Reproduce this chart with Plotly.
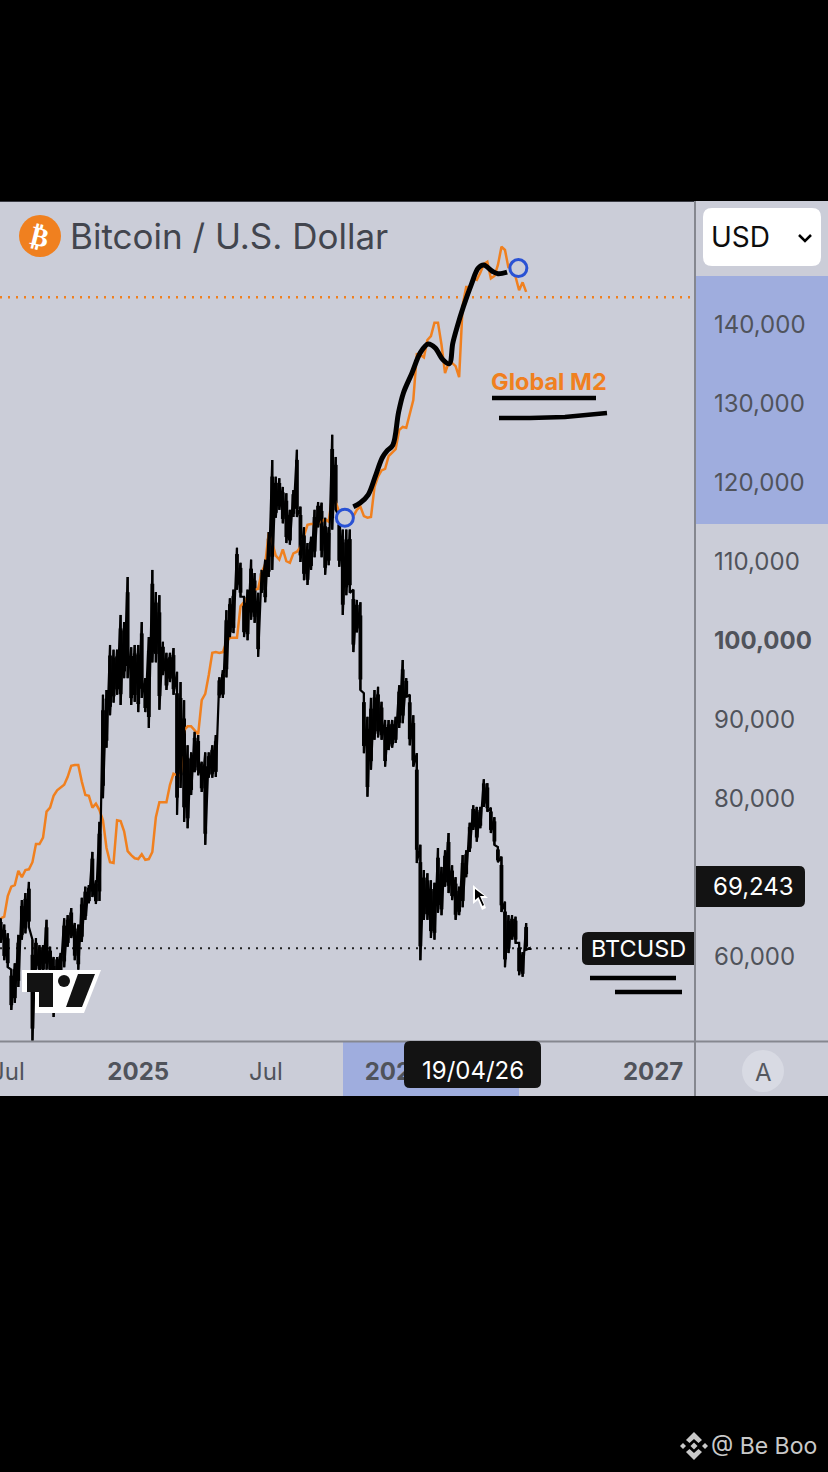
import numpy as np
import pandas as pd
import plotly.graph_objects as go

# Bitcoin / U.S. Dollar with Global M2 overlay (prices in thousands)
W, H = 828, 1472

price_ticks = [60000, 80000, 90000, 100000, 110000, 120000, 130000, 140000]
price_labels = ["60,000", "80,000", "90,000", "<b>100,000</b>", "110,000", "120,000", "130,000", "140,000"]
date_ticks = ["2025-01-01", "2025-07-01", "2026-01-01", "2027-01-01"]
date_labels = ["<b>2025</b>", "Jul", "<b>2026</b>", "<b>2027</b>"]
first_tick = "2024-07-01"

btc_high = [
    64.9, 64.1, 63.0, 58.4, 59.2, 62.8, 67.2, 68.1, 69.5, 62.2, 62.4, 61.5, 61.5, 64.7, 61.3, 60.0,
    60.0, 60.5, 64.9, 65.3, 66.2, 64.3, 64.1, 67.5, 68.9, 69.1, 73.3, 69.7, 77.1, 93.2, 93.8, 99.5,
    98.9, 98.9, 103.3, 102.4, 108.1, 99.2, 99.5, 99.5, 102.4, 95.3, 100.5, 109.0, 106.2, 105.8, 99.9, 98.5,
    98.5, 99.1, 96.1, 94.8, 92.5, 86.8, 85.9, 88.5, 88.1, 84.7, 85.9, 85.9, 86.8, 88.1, 95.4, 96.3,
    103.9, 105.4, 106.5, 111.8, 109.9, 105.6, 106.5, 110.3, 108.6, 106.1, 109.0, 110.3, 113.8, 122.9, 120.8, 120.6,
    119.5, 118.7, 116.6, 119.1, 124.2, 117.0, 114.4, 112.4, 113.2, 116.6, 117.6, 117.5, 115.6, 114.4, 126.1, 123.3,
    115.7, 114.1, 114.1, 114.1, 106.5, 105.2, 104.9, 93.4, 90.4, 92.8, 93.8, 94.2, 92.3, 90.0, 90.0, 90.0,
    90.4, 94.4, 97.6, 95.3, 93.2, 90.6, 85.8, 74.2, 71.0, 70.6, 69.7, 69.4, 73.8, 71.4, 73.5, 75.7,
    71.6, 70.1, 68.9, 72.9, 73.5, 77.0, 79.2, 79.0, 79.0, 82.5, 82.0, 78.9, 77.7, 73.9, 72.7, 67.0,
    65.3, 65.3, 65.1, 61.8, 60.6, 64.3, 61.1,
]
btc_low = [
    61.8, 59.6, 58.7, 53.3, 54.2, 56.2, 62.2, 63.0, 63.8, 49.4, 58.4, 58.0, 58.0, 58.4, 58.0, 52.4,
    58.0, 58.0, 58.7, 61.3, 62.4, 59.6, 58.4, 61.9, 64.7, 66.8, 67.6, 66.7, 67.1, 80.1, 86.5, 90.6,
    92.2, 93.2, 91.9, 95.3, 95.3, 91.9, 92.3, 91.0, 92.8, 91.0, 89.0, 97.3, 97.3, 91.3, 95.7, 93.8,
    94.8, 93.2, 78.0, 81.4, 77.1, 76.3, 80.5, 83.4, 83.0, 80.9, 74.2, 82.7, 82.7, 82.8, 92.8, 92.8,
    95.4, 100.5, 101.0, 106.5, 105.6, 100.5, 100.1, 102.7, 102.3, 98.0, 106.1, 104.9, 108.1, 109.0, 115.6, 116.6,
    114.9, 112.4, 112.2, 115.7, 115.7, 110.0, 107.7, 107.1, 109.0, 110.6, 114.4, 110.6, 108.4, 109.6, 114.1, 116.6,
    109.4, 103.3, 105.8, 106.1, 98.6, 101.1, 93.8, 85.8, 80.3, 83.7, 87.5, 87.8, 87.5, 84.1, 86.2, 86.5,
    87.1, 89.0, 89.6, 92.9, 86.8, 84.1, 71.9, 59.6, 64.7, 64.7, 62.4, 62.2, 65.6, 65.3, 68.9, 68.1,
    67.2, 64.7, 65.3, 66.3, 70.1, 73.3, 76.1, 74.6, 76.3, 79.0, 78.4, 75.7, 74.2, 72.0, 65.7, 58.7,
    60.5, 62.2, 61.8, 57.7, 57.5, 60.9, 60.9,
]
m2_values = [
    64.9, 65.1, 67.7, 68.9, 69.1, 70.9, 70.1, 71.0, 71.1, 72.0, 74.3, 74.3, 75.1, 78.4, 78.9, 80.4,
    81.1, 81.4, 81.8, 82.8, 84.2, 84.3, 84.3, 82.2, 80.5, 80.4, 78.9, 79.4, 78.6, 77.3, 73.8, 72.0,
    71.9, 77.3, 77.2, 75.9, 73.4, 72.9, 72.5, 72.4, 73.0, 72.3, 72.4, 73.3, 77.7, 79.6, 79.6, 79.6,
    81.8, 83.2, 83.0, 82.9, 88.7, 89.2, 89.2, 88.7, 88.2, 92.5, 93.3, 95.7, 98.5, 98.6, 98.5, 98.6,
    99.9, 100.4, 100.4, 100.4, 104.4, 104.9, 105.4, 105.9, 106.5, 106.6, 108.7, 109.7, 113.7, 112.4, 110.8, 110.3,
    111.6, 110.1, 109.9, 111.1, 111.3, 111.9, 113.2, 114.7, 114.8, 114.8, 114.9, 115.1, 115.4, 115.1, 118.4, 117.6,
    116.3, 115.6, 115.6, 115.6, 115.8, 116.6, 117.0, 115.8, 115.6, 115.7, 119.5, 120.8, 121.6, 121.8, 123.4, 123.9,
    124.3, 126.7, 127.1, 127.0, 128.7, 130.5, 136.3, 136.2, 135.9, 138.1, 138.6, 140.3, 140.3, 137.5, 133.9, 135.2,
    135.2, 134.8, 133.4, 142.5, 144.8, 144.8, 145.9, 145.7, 146.6, 147.7, 148.0, 145.9, 146.2, 147.6, 149.9, 149.5,
    147.2, 148.0, 146.1, 144.4, 145.4, 144.2,
]
# freehand projection drawn on top of the chart
sketch_days = [305, 315, 326, 336, 346, 353, 361, 369, 376, 388, 400, 411, 421, 432, 441, 446, 452, 461, 473, 482, 490, 502, 510, 523]
sketch_price = [117.0, 117.5, 118.5, 120.8, 123.2, 124.1, 124.8, 128.9, 131.4, 133.9, 136.5, 137.6, 137.1, 135.6, 135.1, 137.7, 139.7, 142.3, 145.3, 147.2, 147.6, 146.8, 146.5, 146.7]
circle_days = [293, 539]
circle_price = [115.6, 147.2]
m2_last = 143.5
btc_last = 61.1

ORANGE = "#f0801f"
BG = "#cbcdd8"
HILITE = "#9fadde"
DARK = "#131313"
TICK = "#50535b"
WATERMARK = "#c9c9c9"
FONT = "Inter"

start = pd.Timestamp("2024-06-20")
btc_dates = pd.date_range(start, periods=len(btc_high), freq="5D")
m2_dates = pd.date_range(start, periods=len(m2_values), freq="5D")
origin = pd.Timestamp("2025-01-01")
sketch_dates = [origin + pd.Timedelta(days=d) for d in sketch_days]
circle_dates = [origin + pd.Timedelta(days=d) for d in circle_days]
high = np.array(btc_high) * 1000
low = np.array(btc_low) * 1000
# candle bodies fill the middle of each high/low range, the rest stays as thin wicks
body_low = low + (high - low) * 0.12
body_high = high - (high - low) * 0.15
# the daily candles overlap, a line through the extremes closes the gaps
zig_x = np.repeat(btc_dates.values, 2)
zig_y = np.column_stack([high, low]).ravel()
DAY = 86400000


# screen pixels to paper coordinates, only for the furniture round the plot
def px(x):
    return x / W


def py(y):
    return (H - y) / H


def rect(x0, y0, x1, y1, fill, layer="below"):
    return dict(type="rect", xref="paper", yref="paper", x0=px(x0), x1=px(x1), y0=py(y0), y1=py(y1),
                fillcolor=fill, line=dict(width=0), layer=layer)


def poly(points, fill, layer="above"):
    d = "M" + " L".join(f"{px(a):.5f},{py(b):.5f}" for a, b in points) + " Z"
    return dict(type="path", xref="paper", yref="paper", path=d, fillcolor=fill, line=dict(width=0), layer=layer)


def rounded(x0, y0, x1, y1, r, fill, layer="above", square_left=False, square_right=False):
    rl = 0 if square_left else r
    rr = 0 if square_right else r
    d = (f"M{px(x0 + rl):.5f},{py(y0):.5f} L{px(x1 - rr):.5f},{py(y0):.5f} "
         f"Q{px(x1):.5f},{py(y0):.5f} {px(x1):.5f},{py(y0 + rr):.5f} L{px(x1):.5f},{py(y1 - rr):.5f} "
         f"Q{px(x1):.5f},{py(y1):.5f} {px(x1 - rr):.5f},{py(y1):.5f} L{px(x0 + rl):.5f},{py(y1):.5f} "
         f"Q{px(x0):.5f},{py(y1):.5f} {px(x0):.5f},{py(y1 - rl):.5f} L{px(x0):.5f},{py(y0 + rl):.5f} "
         f"Q{px(x0):.5f},{py(y0):.5f} {px(x0 + rl):.5f},{py(y0):.5f} Z")
    return dict(type="path", xref="paper", yref="paper", path=d, fillcolor=fill, line=dict(width=0), layer=layer)


def stroke(points, width=4, color="black"):
    d = "M" + " L".join(f"{px(a):.5f},{py(b):.5f}" for a, b in points)
    return dict(type="path", xref="paper", yref="paper", path=d, line=dict(color=color, width=width), layer="above")


def circle(cx, cy, r, fill, layer="above"):
    return dict(type="circle", xref="paper", yref="paper", x0=px(cx - r), x1=px(cx + r), y0=py(cy + r), y1=py(cy - r),
                fillcolor=fill, line=dict(width=0), layer=layer)


def diamond(cx, cy, r, fill):
    return poly([(cx, cy - r), (cx + r, cy), (cx, cy + r), (cx - r, cy)], fill)


def label(x, y, text, size, color, anchor="left", **kw):
    return dict(xref="paper", yref="paper", x=px(x), y=py(y), text=text, showarrow=False, xanchor=anchor, yanchor="middle",
                font=dict(family=kw.pop("family", FONT), size=size, color=color), **kw)


fig = go.Figure()
fig.add_trace(go.Scatter(x=m2_dates, y=np.array(m2_values) * 1000, mode="lines", line=dict(color=ORANGE, width=2.5), hoverinfo="skip"))
fig.add_trace(go.Bar(x=btc_dates, y=high - low, base=low, width=3.0 * DAY, marker=dict(color="black", line=dict(width=0)), hoverinfo="skip"))
fig.add_trace(go.Bar(x=btc_dates, y=body_high - body_low, base=body_low, width=5.4 * DAY, marker=dict(color="black", line=dict(width=0)), hoverinfo="skip"))
fig.add_trace(go.Scatter(x=zig_x, y=zig_y, mode="lines", line=dict(color="black", width=2.2), hoverinfo="skip"))
fig.add_trace(go.Scatter(x=sketch_dates, y=np.array(sketch_price) * 1000, mode="lines",
                         line=dict(color="black", width=5, shape="spline"), hoverinfo="skip"))
fig.add_trace(go.Scatter(x=circle_dates, y=np.array(circle_price) * 1000, mode="markers",
                         marker=dict(size=17, color=BG, line=dict(color="#2a52d4", width=3)), hoverinfo="skip"))

shapes = [
    rect(0, 201, W, 1096, BG),
    rect(696, 276, W, 524, HILITE),
    rect(343, 1042, 519, 1096, HILITE),
    dict(type="line", xref="x domain", yref="y", x0=0, x1=0.995, y0=m2_last * 1000, y1=m2_last * 1000,
         line=dict(color=ORANGE, width=2.5, dash="2px,6px"), layer="below"),
    dict(type="line", xref="x domain", yref="y", x0=0, x1=0.838, y0=btc_last * 1000, y1=btc_last * 1000,
         line=dict(color="#222222", width=2, dash="2px,6px"), layer="below"),
    dict(type="line", xref="paper", yref="paper", x0=0, x1=px(695), y0=py(201.5), y1=py(201.5), line=dict(color="#3a3c44", width=1), layer="below"),
    dict(type="line", xref="paper", yref="paper", x0=px(695), x1=px(695), y0=py(201), y1=py(1096), line=dict(color="#85878f", width=2)),
    dict(type="line", xref="paper", yref="paper", x0=0, x1=1, y0=py(1041.5), y1=py(1041.5), line=dict(color="#85878f", width=2)),
    # bitcoin logo, currency selector
    circle(40, 236, 21, ORANGE),
    rounded(703, 208, 821, 266, 9, "white"),
    stroke([(799, 235), (805, 241), (811, 235)], width=2.5),
    # price and date flags
    rounded(696, 866, 805, 907, 6, DARK, square_left=True),
    rounded(582, 932, 694, 965, 6, DARK, square_right=True),
    rounded(404, 1041, 541, 1088, 6, DARK),
    circle(763, 1071, 21, "#d8dae3"),
    # hand drawn underlines
    stroke([(492, 398), (596, 398)], width=4.5),
    stroke([(499, 418), (530, 418), (565, 417), (607, 413)], width=4.5),
    stroke([(590, 978), (676, 978)], width=4.5),
    stroke([(615, 992), (682, 992)], width=4.5),
    # TradingView mark
    poly([(22, 970), (101, 970), (84, 1013), (35, 1013), (35, 992), (22, 992)], "white"),
    poly([(27, 973), (53, 973), (53, 1007), (39, 1007), (39, 992), (27, 992)], DARK),
    circle(64, 981, 6, DARK),
    poly([(78, 974), (95, 974), (82, 1007), (66, 1007)], DARK),
    # mouse pointer
    poly([(473, 885), (473, 904), (478, 900), (482, 910), (486, 908), (482, 898), (488, 898)], "white"),
    poly([(475, 889), (475, 900), (478.5, 897), (482.5, 906), (484, 905), (480, 896), (484.5, 896)], "black"),
    # exchange watermark
    poly([(694, 1432), (702, 1440), (698.5, 1443), (694, 1439), (689.5, 1443), (686, 1440)], WATERMARK),
    poly([(694, 1460), (702, 1452), (698.5, 1449), (694, 1453), (689.5, 1449), (686, 1452)], WATERMARK),
    diamond(683, 1446, 3, WATERMARK),
    diamond(705, 1446, 3, WATERMARK),
    diamond(694, 1446, 3.5, WATERMARK),
]

annotations = [
    label(40, 236, "<b>₿</b>", 27, "white", anchor="center", family="DejaVu Sans", textangle=14),
    label(67.5, 236, "Bitcoin / U.S. Dollar", 35, "#42454e"),
    label(709, 237, "USD", 28, "#0d0d0d"),
    label(489, 381.5, "<b>Global M2</b>", 23.5, ORANGE),
    label(711, 886, "69,243", 24, "white"),
    label(589, 948, "BTCUSD", 23.5, "white"),
    label(472.5, 1070, "19/04/26", 24, "white", anchor="center"),
    label(763, 1072, "A", 24, "#55585f", anchor="center"),
    label(709, 1446, "@ Be Boo", 23, WATERMARK),
    # the first Jul sits half off the left edge, an axis tick label would push the margin
    dict(xref="x", yref="paper", x=first_tick, y=py(1071), text="Jul", showarrow=False, xanchor="center", yanchor="middle",
         font=dict(family=FONT, size=24, color=TICK)),
]

fig.update_layout(
    width=W,
    height=H,
    margin=dict(l=0, r=0, t=0, b=0),
    paper_bgcolor="black",
    plot_bgcolor="rgba(0,0,0,0)",
    showlegend=False,
    hovermode=False,
    barmode="overlay",
    shapes=shapes,
    annotations=annotations,
    xaxis=dict(
        domain=[0, px(694)],
        type="date",
        range=["2024-06-19", "2027-02-28"],
        tickvals=date_ticks,
        ticktext=date_labels,
        tickangle=0,
        showgrid=False,
        zeroline=False,
        showline=False,
        ticks="",
        ticklabelstandoff=14,
        tickfont=dict(family=FONT, size=24, color=TICK),
    ),
    yaxis=dict(
        domain=[py(1041), py(201)],
        range=[49367, 155696],
        side="right",
        tickvals=price_ticks,
        ticktext=price_labels,
        showgrid=False,
        zeroline=False,
        showline=False,
        ticks="",
        ticklabelstandoff=19,
        tickfont=dict(family=FONT, size=24, color=TICK),
    ),
)

fig.write_html("out.html", config=dict(displayModeBar=False), post_script="document.body.style.margin='0';")
